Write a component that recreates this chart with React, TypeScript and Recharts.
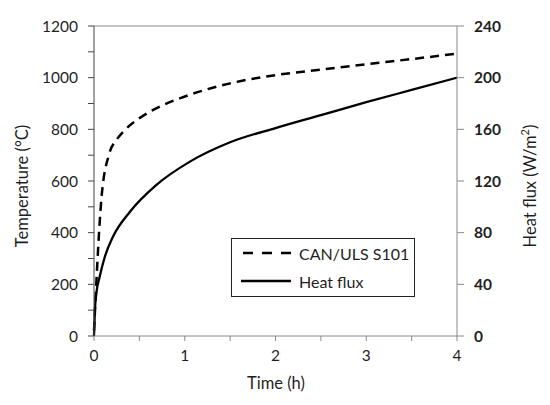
import { LineChart, Line, XAxis, YAxis, ReferenceLine, Label } from "recharts";

// CAN/ULS S101 standard fire curve (left axis, °C)
const stdTime = [0, 0.0833, 0.1667, 0.25, 0.3333, 0.5, 0.75, 1, 1.5, 2, 2.5, 3, 3.5, 4];
const stdTemp = [20, 538, 704, 760, 795, 843, 892, 927, 978, 1010, 1031, 1052, 1072, 1093];

// heat flux (right axis, W/m²)
const fluxTime = [0, 0.01, 0.026, 0.063, 0.118, 0.21, 0.394, 0.688, 1.057, 1.5, 2, 2.5, 3, 3.5, 4];
const fluxValue = [0, 20, 33, 46, 61, 77, 96, 117, 135, 150, 161, 171, 181, 190.5, 200];

const tempTicks = [0, 100, 200, 300, 400, 500, 600, 700, 800, 900, 1000, 1100, 1200];
const fluxTicks = [0, 40, 80, 120, 160, 200, 240];
const timeTicks = [0, 0.5, 1, 1.5, 2, 2.5, 3, 3.5, 4];

const stdData = stdTime.map((t, i) => ({ t, temp: stdTemp[i] }));
const fluxData = fluxTime.map((t, i) => ({ t, flux: fluxValue[i] }));

const FONT = "Lato, 'Open Sans', sans-serif";
const TXT = "#1f1f1f";

const TempTick = (p: any) => (
  <text x={p.x} y={p.y} dy="0.36em" textAnchor="end" fontFamily={FONT} fontSize={15.5} fill={TXT}>
    {p.payload.value % 200 === 0 ? p.payload.value : ""}
  </text>
);

const FluxTick = (p: any) => (
  <text x={p.x} y={p.y} dy="0.36em" textAnchor="start" fontFamily={FONT} fontSize={15.5} fontWeight="bold" fill={TXT}>
    {p.payload.value}
  </text>
);

const TimeTick = (p: any) => (
  <text x={p.x} y={p.y} dy="0.71em" textAnchor="middle" fontFamily={FONT} fontSize={15.5} fill={TXT}>
    {Number.isInteger(p.payload.value) ? p.payload.value : ""}
  </text>
);

const axisTitle = (x: number, y: number, text: React.ReactNode, rotate: boolean) => () => (
  <text
    x={x}
    y={y}
    textAnchor="middle"
    dominantBaseline="central"
    transform={rotate ? `rotate(-90, ${x}, ${y})` : undefined}
    fontFamily={FONT}
    fontSize={16.5}
    fill={TXT}
  >
    {text}
  </text>
);

function ChartLegend() {
  return (
    <div
      style={{
        position: "absolute",
        left: 231,
        top: 238,
        width: 182,
        height: 57,
        border: "1.5px solid #222",
        background: "#fff",
      }}
    >
      <svg width={182} height={57} style={{ position: "absolute", left: 0, top: 0 }}>
        <line x1={11} x2={59} y1={14} y2={14} stroke="#000" strokeWidth={2.5} strokeDasharray="10 9" />
        <line x1={9} x2={59} y1={42} y2={42} stroke="#000" strokeWidth={2.5} />
        <text x={67} y={14} dominantBaseline="central" fontFamily={FONT} fontSize={16} fill={TXT}>
          CAN/ULS S101
        </text>
        <text x={67} y={42} dominantBaseline="central" fontFamily={FONT} fontSize={16} fill={TXT}>
          Heat flux
        </text>
      </svg>
    </div>
  );
}

export default function App() {
  return (
    <div style={{ position: "absolute", left: 0, top: 0, width: 550, height: 405, background: "#fff" }}>
      <LineChart width={550} height={405} margin={{ top: 26, right: 0, bottom: 0, left: 0 }}>
        <XAxis
          dataKey="t"
          type="number"
          domain={[0, 4]}
          ticks={timeTicks}
          height={69}
          stroke="#8a8a8a"
          tickSize={5}
          tickMargin={9}
          tick={TimeTick}
          allowDuplicatedCategory={false}
        >
          <Label content={axisTitle(276, 383, "Time (h)", false)} />
        </XAxis>
        <YAxis
          yAxisId="temp"
          domain={[0, 1200]}
          ticks={tempTicks}
          width={94}
          stroke="#444"
          tickSize={6}
          tickMargin={10}
          tick={TempTick}
          interval={0}
        >
          <Label content={axisTitle(22, 186, "Temperature (°C)", true)} />
        </YAxis>
        <YAxis
          yAxisId="flux"
          orientation="right"
          domain={[0, 240]}
          ticks={fluxTicks}
          width={93}
          stroke="#8a8a8a"
          tickSize={7}
          tickMargin={10}
          tick={FluxTick}
          interval={0}
        >
          <Label content={axisTitle(530, 186, <>Heat flux (W/m<tspan dy="-6" fontSize={11}>2</tspan><tspan dy="6">)</tspan></>, true)} />
        </YAxis>
        <ReferenceLine yAxisId="temp" y={1200} stroke="#8a8a8a" strokeWidth={1} />
        <Line
          yAxisId="temp"
          data={stdData}
          dataKey="temp"
          type="monotone"
          stroke="#000"
          strokeWidth={2.5}
          strokeDasharray="9 6"
          dot={false}
          isAnimationActive={false}
        />
        <Line
          yAxisId="flux"
          data={fluxData}
          dataKey="flux"
          type="monotone"
          stroke="#000"
          strokeWidth={2.3}
          dot={false}
          isAnimationActive={false}
        />
      </LineChart>
      <ChartLegend />
    </div>
  );
}
